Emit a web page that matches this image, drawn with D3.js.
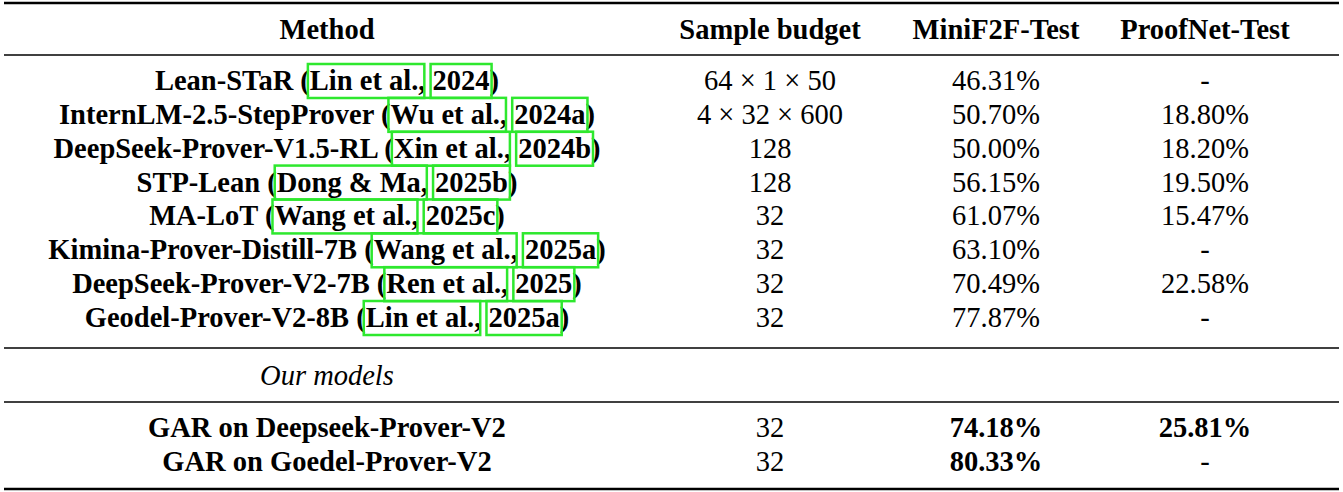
<!DOCTYPE html><html><head><meta charset="utf-8">
<script src="https://cdn.jsdelivr.net/npm/d3@7"></script>
<style>body{margin:0;background:#fff}text{font-family:"Liberation Serif","Times New Roman",serif;fill:#000}</style>
</head><body><svg id="c" width="1343" height="492"></svg>
<script>
const headers=["Method","Sample budget","MiniF2F-Test","ProofNet-Test"];
const methods=["Lean-STaR","InternLM-2.5-StepProver","DeepSeek-Prover-V1.5-RL","STP-Lean","MA-LoT","Kimina-Prover-Distill-7B","DeepSeek-Prover-V2-7B","Geodel-Prover-V2-8B"];
const citeAuthors=["Lin et al.","Wu et al.","Xin et al.","Dong & Ma","Wang et al.","Wang et al.","Ren et al.","Lin et al."];
const citeYears=["2024","2024a","2024b","2025b","2025c","2025a","2025","2025a"];
const budgets=["64 × 1 × 50","4 × 32 × 600","128","128","32","32","32","32"];
const minif2f=["46.31%","50.70%","50.00%","56.15%","61.07%","63.10%","70.49%","77.87%"];
const proofnet=["-","18.80%","18.20%","19.50%","15.47%","-","22.58%","-"];
const ourLabel="Our models";
const ourMethods=["GAR on Deepseek-Prover-V2","GAR on Goedel-Prover-V2"];
const ourBudgets=["32","32"];
const ourMiniF2F=["74.18%","80.33%"];
const ourProofNet=["25.81%","-"];

const svg=d3.select("#c");
const cols=d3.scaleOrdinal().domain([0,1,2,3]).range([327,770,996,1205]);
const y=d3.scaleLinear().domain([0,7]).range([90,327]);
const y2=d3.scaleLinear().domain([0,1]).range([437,471]);
const fs=28.5;
function line(yy,w){svg.append("line").attr("x1",4).attr("x2",1339).attr("y1",yy).attr("y2",yy).attr("stroke","#000").attr("stroke-width",w);}
line(3,2.5);line(55,1.3);line(348,1.3);line(402,1.3);line(489,2.5);
headers.forEach((h,i)=>svg.append("text").attr("x",cols(i)).attr("y",39).attr("text-anchor","middle").attr("font-size",fs).attr("font-weight","bold").text(h));
methods.forEach((m,i)=>{
  const t=svg.append("text").attr("x",cols(0)).attr("y",y(i)).attr("text-anchor","middle").attr("font-size",fs).attr("font-weight","bold");
  t.append("tspan").text(m+" (");
  const a=t.append("tspan").text(citeAuthors[i]);
  t.append("tspan").text(", ");
  const yr=t.append("tspan").text(citeYears[i]);
  t.append("tspan").text(")");
  [a,yr].forEach(s=>{const b=s.node().getBBox();
    svg.append("rect").attr("x",b.x-2).attr("y",y(i)-26).attr("width",b.width+(s===a?8:4)).attr("height",34).attr("fill","none").attr("stroke","#2ee82e").attr("stroke-width",2.5);});
  svg.append("text").attr("x",cols(1)).attr("y",y(i)).attr("text-anchor","middle").attr("font-size",fs).text(budgets[i]);
  svg.append("text").attr("x",cols(2)).attr("y",y(i)).attr("text-anchor","middle").attr("font-size",fs).text(minif2f[i]);
  svg.append("text").attr("x",cols(3)).attr("y",y(i)).attr("text-anchor","middle").attr("font-size",fs).text(proofnet[i]);
});
svg.append("text").attr("x",cols(0)).attr("y",385).attr("text-anchor","middle").attr("font-size",fs).attr("font-style","italic").text(ourLabel);
ourMethods.forEach((m,i)=>{
  svg.append("text").attr("x",cols(0)).attr("y",y2(i)).attr("text-anchor","middle").attr("font-size",fs).attr("font-weight","bold").text(m);
  svg.append("text").attr("x",cols(1)).attr("y",y2(i)).attr("text-anchor","middle").attr("font-size",fs).text(ourBudgets[i]);
  svg.append("text").attr("x",cols(2)).attr("y",y2(i)).attr("text-anchor","middle").attr("font-size",fs).attr("font-weight","bold").text(ourMiniF2F[i]);
  svg.append("text").attr("x",cols(3)).attr("y",y2(i)).attr("text-anchor","middle").attr("font-size",fs).attr("font-weight",ourProofNet[i]==="-"?"normal":"bold").text(ourProofNet[i]);
});
</script></body></html>
